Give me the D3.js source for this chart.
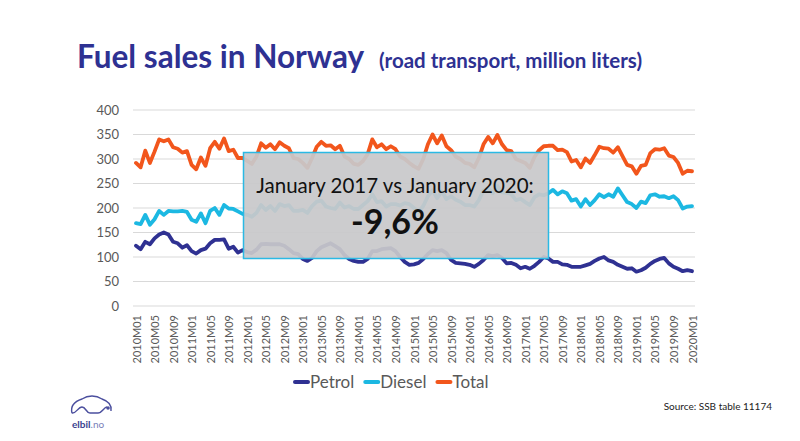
<!DOCTYPE html>
<html>
<head>
<meta charset="utf-8">
<script src="https://cdn.jsdelivr.net/npm/d3@7"></script>
<style>
  html, body { margin: 0; padding: 0; background: #fff; }
  svg { display: block; font-family: Lato, "Open Sans", sans-serif; }
</style>
</head>
<body>
<svg id="chart"></svg>
<script>
// monthly labels 2010M01 .. 2020M01
const years = d3.range(2010, 2021);
const months = years.flatMap((y) =>
  d3.range(1, 13).map((m) => `${y}M${String(m).padStart(2, "0")}`)
).slice(0, 121);

// million liters
const petrol = [
  123, 116, 131, 126, 138, 146, 150, 146, 131, 128, 119, 124,
  112, 107, 114, 117, 128, 135, 135, 136, 117, 121, 109, 114,
  110, 108, 115, 126, 127, 126, 126, 126, 123, 116, 108, 106,
  96, 92, 98, 112, 120, 124, 128, 122, 116, 104, 96, 92,
  90, 90, 96, 112, 112, 116, 117, 118, 112, 100, 90, 84,
  85, 88, 96, 106, 114, 112, 114, 108, 94, 88, 87, 86,
  84, 80, 86, 94, 104, 102, 104, 98, 87, 88, 84, 77,
  80, 76, 82, 90, 100, 97, 90, 90, 85, 84, 80, 80,
  80, 83, 86, 92, 97, 100, 93, 90, 84, 80, 76, 77,
  70, 73, 78, 86, 92, 96, 98, 87, 80, 76, 71, 73,
  71,
];
const diesel = [
  169, 167, 186, 166, 177, 194, 186, 194, 193, 193, 194, 192,
  176, 172, 189, 169, 194, 200, 186, 206, 199, 198, 193, 188,
  186, 182, 190, 206, 196, 204, 194, 208, 204, 206, 194, 194,
  196, 190, 204, 213, 215, 203, 200, 198, 211, 201, 204, 198,
  198, 206, 214, 228, 212, 214, 203, 208, 208, 205, 210, 208,
  200, 192, 204, 224, 236, 220, 234, 218, 224, 217, 213, 206,
  206, 203, 216, 236, 241, 230, 245, 232, 231, 228, 216, 219,
  212, 206, 222, 228, 226, 230, 237, 228, 234, 230, 215, 218,
  203, 218, 206, 216, 228, 222, 228, 223, 240, 226, 212, 208,
  200, 213, 210, 226, 228, 223, 224, 220, 224, 216, 199, 203,
  204,
];
const total = [
  292, 283, 317, 292, 315, 340, 336, 340, 324, 321, 313, 316,
  288, 279, 303, 286, 322, 335, 321, 342, 316, 319, 302, 302,
  296, 290, 305, 332, 323, 330, 320, 334, 327, 322, 302, 300,
  292, 282, 302, 325, 335, 327, 328, 320, 327, 305, 300, 290,
  288, 296, 310, 340, 324, 330, 320, 326, 320, 305, 300, 292,
  285, 280, 300, 330, 350, 332, 348, 326, 318, 305, 300, 292,
  290, 283, 302, 330, 345, 332, 349, 330, 318, 316, 300, 296,
  292, 282, 304, 318, 326, 327, 327, 318, 319, 314, 295, 298,
  283, 301, 292, 308, 325, 322, 321, 313, 324, 306, 288, 285,
  270, 286, 288, 312, 320, 319, 322, 307, 304, 292, 270, 276,
  275,
];

const seriesNames = ["Petrol", "Diesel", "Total"];
const seriesValues = [petrol, diesel, total];
const seriesColors = ["#2f3192", "#1cb8e2", "#f2561c"];
const yTicks = [0, 50, 100, 150, 200, 250, 300, 350, 400];
const xTickLabels = months.filter((_, i) => i % 4 === 0);

const width = 800, height = 441;
const svg = d3.select("#chart").attr("width", width).attr("height", height);

// title
const title = svg.append("text")
  .attr("x", 77).attr("y", 68)
  .attr("fill", "#2e3192");
title.append("tspan")
  .attr("font-size", 31.5).attr("font-weight", 700)
  .text("Fuel sales in Norway");
title.append("tspan")
  .attr("font-size", 20.5).attr("font-weight", 700)
  .attr("dx", 15)
  .text("(road transport, million liters)");

// scales
const x = d3.scalePoint().domain(months).range([136, 692]);
const y = d3.scaleLinear().domain([0, 400]).range([306, 110]);

// gridlines
svg.append("g")
  .selectAll("line")
  .data(yTicks)
  .join("line")
  .attr("x1", 133).attr("x2", 695)
  .attr("y1", (d) => y(d)).attr("y2", (d) => y(d))
  .attr("stroke", "#d9d9d9").attr("stroke-width", 1);

// y axis labels
const yAxis = svg.append("g")
  .attr("transform", "translate(119,0)")
  .call(d3.axisLeft(y).tickValues(yTicks).tickSize(0).tickPadding(0));
yAxis.select(".domain").remove();
yAxis.selectAll("text")
  .attr("font-family", "Lato, sans-serif")
  .attr("font-size", 13)
  .attr("fill", "#595959");

// x axis labels, rotated
const xAxis = svg.append("g")
  .attr("transform", "translate(0,306)")
  .call(d3.axisBottom(x).tickValues(xTickLabels).tickSize(0).tickPadding(0));
xAxis.select(".domain").remove();
xAxis.selectAll("text")
  .attr("font-family", "Lato, sans-serif")
  .attr("font-size", 11)
  .attr("fill", "#595959")
  .attr("text-anchor", "end")
  .attr("dy", null)
  .attr("transform", "translate(4,9) rotate(-90)");

// lines
const line = d3.line()
  .x((d, i) => x(months[i]))
  .y((d) => y(d))
  .curve(d3.curveLinear);

svg.append("g")
  .selectAll("path")
  .data(seriesValues)
  .join("path")
  .attr("d", (d) => line(d))
  .attr("fill", "none")
  .attr("stroke", (d, i) => seriesColors[i])
  .attr("stroke-width", 3.8)
  .attr("stroke-linejoin", "round")
  .attr("stroke-linecap", "round");

// annotation box
const box = svg.append("g");
box.append("rect")
  .attr("x", 243.5).attr("y", 152.5)
  .attr("width", 305).attr("height", 106)
  .attr("fill", "#c8c8ca").attr("fill-opacity", 0.93)
  .attr("stroke", "#2bb9e4").attr("stroke-width", 1.5);
box.append("text")
  .attr("x", 395).attr("y", 193)
  .attr("text-anchor", "middle")
  .attr("font-size", 20.5)
  .attr("fill", "#111")
  .text("January 2017 vs January 2020:");
box.append("text")
  .attr("x", 395).attr("y", 234)
  .attr("text-anchor", "middle")
  .attr("font-size", 34).attr("font-weight", 700)
  .attr("fill", "#111")
  .text("-9,6%");

// legend
const legend = svg.append("g").attr("transform", "translate(295,382)");
let lx = 0;
seriesNames.forEach((name, i) => {
  const g = legend.append("g").attr("transform", `translate(${lx},0)`);
  g.append("line")
    .attr("x1", 0).attr("x2", 13)
    .attr("y1", 0).attr("y2", 0)
    .attr("stroke", seriesColors[i]).attr("stroke-width", 4)
    .attr("stroke-linecap", "round");
  const t = g.append("text")
    .attr("x", 15).attr("y", 6)
    .attr("font-size", 17)
    .attr("fill", "#595959")
    .text(name);
  lx += 15 + t.node().getComputedTextLength() + 11;
});

// elbil.no logo
const logo = svg.append("g").attr("transform", "translate(70,393)");
logo.append("path")
  .attr("d", "M2,20 C0,12 6,8 12,6 C18,2 26,2 32,6 C38,8 42,12 41,18 M2,20 C6,21 8,14 12,14 C16,14 16,20 20,20 L28,20 C32,20 34,14 37,14")
  .attr("fill", "none").attr("stroke", "#4b4f9e").attr("stroke-width", 1.4);
logo.append("circle").attr("cx", 38).attr("cy", 15).attr("r", 1.8).attr("fill", "#4b4f9e");
const logoText = logo.append("text").attr("x", 2).attr("y", 35).attr("font-size", 10);
logoText.append("tspan").attr("font-weight", 700).attr("fill", "#3a3f8f").text("elbil");
logoText.append("tspan").attr("fill", "#7a7fb8").text(".no");

// source
svg.append("text")
  .attr("x", 772).attr("y", 410)
  .attr("text-anchor", "end")
  .attr("font-size", 10)
  .attr("fill", "#222")
  .text("Source: SSB table 11174");
</script>
</body>
</html>
